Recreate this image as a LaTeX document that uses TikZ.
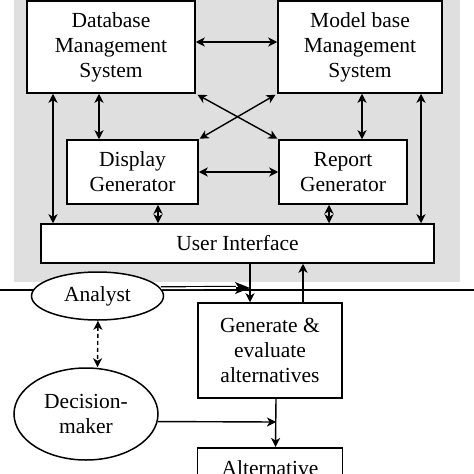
\documentclass[tikz,border=0pt]{standalone}
\usepackage{fontspec}
\setmainfont{Liberation Serif}
\usetikzlibrary{arrows.meta,shapes.geometric}
\tikzset{
  box/.style={draw, line width=1.5pt, fill=white, align=center, inner sep=0pt, font=\fontsize{21.5}{25}\selectfont},
  oval/.style={draw, ellipse, line width=1.5pt, fill=white, align=center, inner sep=0pt, font=\fontsize{21.5}{25}\selectfont},
  conn/.style={line width=1.4pt},
  dd/.style={conn, {Stealth[length=9pt,width=9pt,inset=2.5pt]}-{Stealth[length=9pt,width=9pt,inset=2.5pt]}},
  sd/.style={conn, -{Stealth[length=9pt,width=9pt,inset=2.5pt]}},
}
\begin{document}
\begin{tikzpicture}[x=1pt,y=-1pt]
\useasboundingbox (0,0) rectangle (474,474);
\clip (0,0) rectangle (474,474);
\fill[white] (0,0) rectangle (474,474);
\fill[gray!25] (14,0) rectangle (460,282);
\draw[line width=1.4pt] (0,290) -- (474,290);

\node[box, minimum width=168pt, minimum height=92pt] (dbms) at (111,47) {Database\\Management\\System};
\node[box, minimum width=164pt, minimum height=92pt] (mbms) at (360,47) {Model base\\Management\\System};
\node[box, minimum width=131pt, minimum height=64pt] (disp) at (132.5,172) {Display\\Generator};
\node[box, minimum width=128pt, minimum height=64pt] (rep) at (343,172) {Report\\Generator};
\node[box, minimum width=393pt, minimum height=39pt] (ui) at (237.5,243.5) {User Interface};
\node[oval, minimum width=132pt, minimum height=48pt] (analyst) at (97.5,296) {Analyst};
\node[oval, minimum width=144pt, minimum height=92pt] (dm) at (86,414) {Decision-\\maker};
\node[box, minimum width=144pt, minimum height=95pt] (gen) at (270,350.5) {Generate \&\\evaluate\\alternatives};
\node[box, anchor=north, minimum width=145pt, text height=28pt, text depth=50pt] (alt) at (270,447) {Alternative};

\coordinate (ajoin) at (250,288);
\coordinate (ahead) at (236,288);
\coordinate (djoin) at (276,422);

\draw[dd] ([yshift=5pt]dbms.east) -- ([yshift=5pt]mbms.west);
\draw[dd] ([xshift=-12pt]dbms.south) -- ([xshift=-33.5pt]disp.north);
\draw[dd] ([xshift=2pt]mbms.south) -- ([xshift=19pt]rep.north);
\draw[dd, shorten <=2pt, shorten >=1pt] (dbms.south east) -- (rep.north west);
\draw[dd, shorten <=2pt, shorten >=1pt] (mbms.south west) -- (disp.north east);
\draw[dd] (disp.east) -- (rep.west);
\draw[dd] ([xshift=-58pt]dbms.south) -- ([xshift=-184.5pt]ui.north);
\draw[dd] ([xshift=61pt]mbms.south) -- ([xshift=183.5pt]ui.north);
\draw[dd] ([xshift=25.5pt]disp.south) -- ([xshift=-79.5pt]ui.north);
\draw[dd] ([xshift=-14pt]rep.south) -- ([xshift=91.5pt]ui.north);
\draw[sd] ([xshift=12.5pt]ui.south) -- ([xshift=-20pt]gen.north);
\draw[sd] ([xshift=33pt]gen.north) -- ([xshift=65.5pt]ui.south);
\draw[line width=1.2pt, double, double distance=1.8pt] (analyst.7.3) -- (ahead);
\draw[line width=1.4pt, -{Stealth[length=15pt,width=12pt,inset=4pt]}] (ahead) -- (ajoin);
\draw[dd, dashed, dash pattern=on 4pt off 3pt] ([xshift=0.5pt]analyst.south) -- (dm.north -| analyst.south);
\draw[sd] (dm.-6.4) -- (djoin);
\draw[sd] ([xshift=6pt]gen.south) -- ([xshift=5.5pt]alt.north);
\end{tikzpicture}
\end{document}
